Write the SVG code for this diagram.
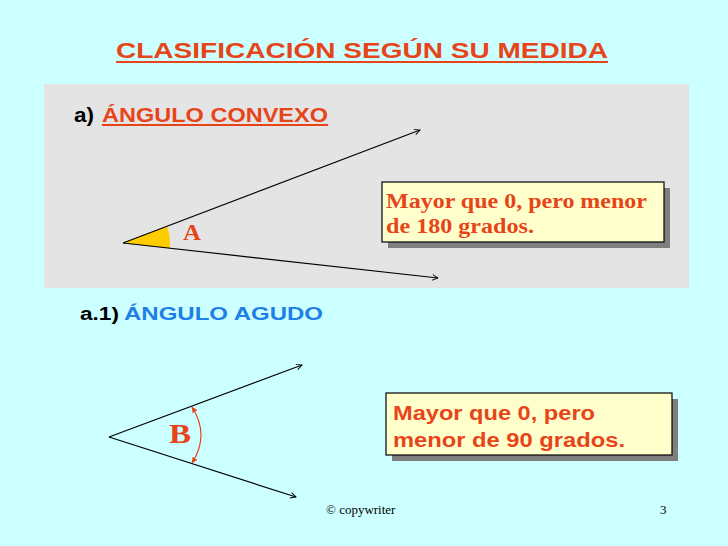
<svg xmlns="http://www.w3.org/2000/svg" width="728" height="546" viewBox="0 0 728 546">
<defs>
<style>
.sans{font-family:"Liberation Sans",Arial,sans-serif;font-weight:bold}
.serif{font-family:"Liberation Serif","Times New Roman",serif;font-weight:bold}
.red{fill:#E8441A}
.ray{stroke:#000;stroke-width:1.2;fill:none;marker-end:url(#arr)}
.box{fill:#FFFFCC;stroke:#000;stroke-width:1.2}
.shadow{fill:#7F7F7F}
</style>
<marker id="arr" viewBox="0 0 10 10" refX="9" refY="5" markerWidth="7" markerHeight="7" orient="auto" markerUnits="userSpaceOnUse">
<path d="M1,1 L9,5 L1,9" fill="none" stroke="#000" stroke-width="1.3"/>
</marker>
<marker id="rarr" viewBox="0 0 10 10" refX="8" refY="5" markerWidth="7" markerHeight="7" orient="auto-start-reverse" markerUnits="userSpaceOnUse">
<path d="M0,1 L9,5 L0,9 Z" fill="#E8441A"/>
</marker>
</defs>
<rect width="728" height="546" fill="#CCFFFF"/>
<g id="title">
<text class="sans red" x="116" y="58" font-size="22" textLength="492" lengthAdjust="spacingAndGlyphs">CLASIFICACIÓN SEGÚN SU MEDIDA</text>
<rect x="116" y="61" width="492" height="2" fill="#E8441A"/>
</g>
<g id="panel">
<rect x="44" y="84" width="645" height="204" fill="#E4E4E4"/>
<text class="sans" x="74" y="122" font-size="21" fill="#000" textLength="20" lengthAdjust="spacingAndGlyphs">a)</text>
<text class="sans red" x="102" y="122" font-size="21" textLength="226" lengthAdjust="spacingAndGlyphs">ÁNGULO CONVEXO</text>
<rect x="102" y="124" width="226" height="2" fill="#E8441A"/>
</g>
<g id="angleA">
<path d="M123,243 L166.9,226.3 A47,47 0 0 1 169.7,248.2 Z" fill="#FFCC00"/>
<text class="serif red" x="183" y="240" font-size="24" textLength="18" lengthAdjust="spacingAndGlyphs">A</text>
</g>
<g id="boxA">
<rect class="shadow" x="388" y="188" width="282" height="60"/>
<rect class="box" x="382" y="182" width="282" height="60"/>
<text class="serif red" x="386" y="208" font-size="21" textLength="261" lengthAdjust="spacingAndGlyphs">Mayor que 0, pero menor</text>
<text class="serif red" x="386" y="233" font-size="21" textLength="148" lengthAdjust="spacingAndGlyphs">de 180 grados.</text>
</g>
<g id="labelA1">
<text class="sans" x="80" y="320" font-size="18" fill="#000" textLength="39" lengthAdjust="spacingAndGlyphs">a.1)</text>
<text class="sans" x="124" y="320" font-size="18" fill="#1E7FE8" textLength="199" lengthAdjust="spacingAndGlyphs">ÁNGULO AGUDO</text>
</g>
<g id="angleB">
<text class="serif red" x="169" y="443" font-size="28" textLength="22" lengthAdjust="spacingAndGlyphs">B</text>
</g>
<g id="boxB">
<rect class="shadow" x="392" y="399" width="286" height="62"/>
<rect class="box" x="386" y="393" width="286" height="62"/>
<text class="sans red" x="393" y="420" font-size="20" textLength="202" lengthAdjust="spacingAndGlyphs">Mayor que 0, pero</text>
<text class="sans red" x="393" y="447" font-size="20" textLength="232" lengthAdjust="spacingAndGlyphs">menor de 90 grados.</text>
</g>
<g id="connectors">
<line class="ray" x1="123" y1="243" x2="420" y2="130"/>
<line class="ray" x1="123" y1="243" x2="438" y2="278"/>
<line class="ray" x1="109" y1="437" x2="302" y2="365"/>
<line class="ray" x1="109" y1="437" x2="296" y2="497"/>
<path d="M192,407 Q210,435 192,463" fill="none" stroke="#E8441A" stroke-width="1.2" marker-start="url(#rarr)" marker-end="url(#rarr)"/>
</g>
<g id="footer">
<text x="326" y="514" font-family="'Liberation Serif','Times New Roman',serif" font-size="13" fill="#000">© copywriter</text>
<text x="660" y="514" font-family="'Liberation Serif','Times New Roman',serif" font-size="13" fill="#000">3</text>
</g>
</svg>
